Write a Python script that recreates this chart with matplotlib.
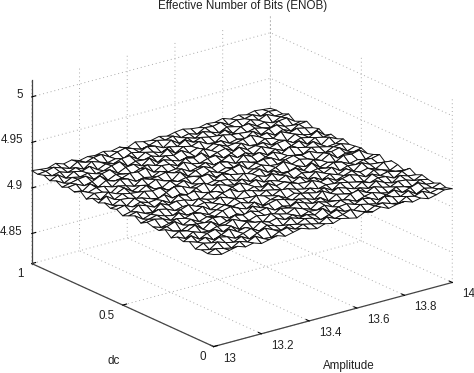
import matplotlib
matplotlib.use("Agg")
import matplotlib.pyplot as plt
from mpl_toolkits.mplot3d import proj3d
import numpy as np

plt.rcParams["font.family"] = ["Liberation Sans", "DejaVu Sans"]
plt.rcParams["font.size"] = 8.4

amplitude_ticks = [13, 13.2, 13.4, 13.6, 13.8, 14]
dc_ticks = [0, 0.5, 1]
enob_ticks = [4.85, 4.9, 4.95, 5]
amplitude_tick_labels = ["13", "13.2", "13.4", "13.6", "13.8", "14"]
dc_tick_labels = ["0", "0.5", "1"]
enob_tick_labels = ["4.85", "4.9", "4.95", "5"]

enob_milli = [
    [18, 16, 18, 20, 17, 19, 16, 18, 20, 17, 19, 21, 18, 16, 19, 17, 20, 18, 16, 20, 18, 21, 17, 19, 20, 17, 19, 16, 18, 21, 20],
    [16, 19, 17, 15, 20, 17, 21, 16, 15, 19, 21, 17, 20, 18, 16, 21, 17, 19, 22, 18, 15, 19, 20, 17, 15, 20, 18, 21, 17, 19, 18],
    [17, 15, 21, 18, 16, 20, 15, 19, 22, 18, 15, 19, 17, 21, 19, 15, 18, 21, 17, 15, 20, 18, 16, 22, 19, 17, 21, 15, 19, 17, 20],
    [15, 19, 17, 21, 19, 15, 18, 21, 16, 20, 17, 15, 21, 18, 20, 17, 22, 15, 19, 20, 17, 21, 19, 15, 18, 21, 16, 19, 22, 18, 17],
    [20, 17, 20, 15, 18, 22, 17, 19, 15, 21, 18, 20, 16, 19, 15, 18, 17, 20, 16, 21, 19, 15, 18, 20, 17, 15, 19, 17, 15, 20, 18],
    [17, 21, 15, 19, 21, 16, 20, 14, 20, 17, 15, 22, 19, 17, 21, 18, 15, 21, 18, 17, 15, 20, 22, 17, 21, 18, 16, 20, 19, 16, 20],
    [19, 15, 20, 17, 16, 19, 18, 22, 18, 16, 19, 17, 15, 20, 18, 22, 19, 16, 20, 14, 19, 17, 15, 19, 16, 22, 18, 15, 21, 18, 17],
    [15, 20, 18, 22, 15, 21, 15, 17, 21, 19, 21, 18, 20, 15, 17, 15, 20, 18, 15, 22, 17, 21, 18, 15, 20, 17, 20, 19, 15, 20, 21],
    [21, 17, 15, 19, 18, 17, 20, 19, 15, 17, 14, 21, 17, 19, 21, 19, 16, 21, 19, 17, 20, 15, 21, 19, 17, 15, 21, 17, 19, 17, 16],
    [17, 19, 22, 16, 20, 15, 18, 16, 20, 22, 18, 15, 20, 14, 18, 20, 15, 18, 15, 19, 16, 18, 17, 20, 22, 19, 15, 20, 18, 15, 19],
    [18, 15, 17, 20, 18, 21, 19, 15, 18, 21, 17, 19, 16, 22, 19, 17, 21, 20, 17, 15, 22, 18, 20, 15, 18, 21, 17, 19, 16, 21, 20],
    [20, 21, 19, 15, 21, 16, 17, 21, 15, 19, 15, 20, 18, 17, 15, 20, 18, 15, 21, 18, 17, 20, 15, 19, 16, 20, 15, 22, 18, 17, 15],
    [16, 18, 20, 17, 15, 19, 22, 18, 20, 17, 21, 18, 15, 21, 19, 16, 22, 17, 19, 16, 20, 15, 21, 17, 21, 15, 18, 17, 20, 19, 21],
    [21, 15, 18, 21, 19, 15, 17, 14, 21, 18, 16, 20, 22, 17, 15, 18, 15, 20, 17, 21, 15, 19, 17, 19, 17, 21, 19, 15, 17, 15, 18],
    [18, 20, 16, 15, 22, 18, 20, 19, 16, 15, 20, 19, 15, 19, 21, 17, 20, 15, 22, 18, 19, 21, 16, 22, 15, 18, 16, 21, 20, 22, 16],
    [15, 17, 22, 19, 15, 20, 15, 21, 19, 21, 17, 15, 21, 18, 16, 20, 15, 19, 16, 20, 15, 15, 18, 15, 20, 17, 22, 15, 18, 17, 19],
    [19, 21, 17, 20, 17, 18, 21, 15, 17, 14, 19, 22, 17, 20, 19, 15, 21, 18, 21, 15, 18, 22, 17, 20, 18, 15, 20, 19, 21, 15, 18],
    [17, 18, 15, 21, 19, 16, 14, 18, 22, 20, 16, 18, 15, 17, 22, 19, 17, 14, 18, 20, 17, 16, 19, 21, 19, 21, 17, 15, 19, 20, 17],
    [20, 15, 19, 18, 15, 21, 19, 20, 15, 18, 21, 15, 20, 21, 15, 18, 20, 22, 15, 19, 21, 20, 15, 18, 16, 15, 20, 18, 16, 17, 20],
    [17, 22, 16, 20, 18, 17, 22, 16, 15, 20, 17, 19, 18, 16, 19, 15, 18, 16, 20, 17, 15, 18, 21, 17, 22, 19, 17, 21, 15, 21, 17],
    [19, 15, 21, 17, 21, 15, 19, 17, 21, 17, 15, 22, 15, 19, 21, 17, 21, 19, 15, 22, 18, 20, 15, 19, 15, 18, 21, 15, 20, 18, 19],
    [15, 19, 18, 14, 20, 18, 15, 21, 18, 19, 21, 18, 20, 15, 17, 20, 15, 17, 21, 16, 19, 15, 21, 17, 20, 21, 16, 19, 17, 22, 15],
    [21, 17, 20, 19, 16, 22, 20, 15, 17, 15, 19, 16, 17, 22, 18, 16, 19, 20, 15, 18, 22, 17, 19, 20, 15, 18, 15, 20, 17, 15, 19],
    [17, 15, 21, 15, 20, 17, 18, 21, 20, 22, 15, 20, 19, 15, 21, 19, 22, 15, 18, 20, 15, 21, 16, 15, 19, 17, 22, 18, 21, 19, 17],
    [19, 20, 16, 18, 22, 15, 19, 17, 15, 18, 20, 17, 21, 18, 15, 17, 15, 21, 17, 21, 17, 18, 20, 22, 18, 20, 15, 19, 15, 20, 21],
    [16, 18, 20, 21, 15, 19, 21, 15, 19, 20, 16, 22, 15, 20, 18, 21, 16, 19, 15, 19, 20, 15, 17, 15, 21, 15, 19, 21, 17, 16, 18],
    [20, 15, 19, 17, 19, 16, 17, 20, 22, 15, 18, 17, 19, 16, 22, 15, 20, 18, 21, 16, 15, 21, 19, 18, 17, 19, 17, 15, 20, 21, 15],
    [17, 21, 15, 20, 18, 21, 15, 19, 17, 20, 21, 15, 20, 18, 15, 19, 17, 22, 17, 20, 18, 17, 21, 15, 20, 21, 16, 18, 15, 19, 20],
    [20, 17, 19, 16, 19, 15, 21, 18, 15, 17, 15, 19, 17, 21, 19, 15, 21, 15, 19, 16, 21, 18, 15, 19, 17, 15, 20, 17, 21, 17, 17],
    [18, 19, 21, 18, 15, 20, 17, 20, 21, 16, 19, 21, 18, 15, 17, 20, 18, 20, 16, 18, 15, 20, 19, 21, 16, 19, 18, 20, 16, 19, 18],
    [19, 18, 17, 20, 17, 19, 16, 18, 17, 19, 17, 19, 16, 20, 18, 17, 19, 17, 19, 20, 18, 17, 19, 18, 20, 17, 19, 17, 19, 18, 17],
]

axis_color = "#444444"
text_color = "#222222"

amplitude = np.linspace(13, 14, len(enob_milli[0]))
dc = np.linspace(0, 1, len(enob_milli))
X, Y = np.meshgrid(amplitude, dc)
Z = 4.9 + np.array(enob_milli) / 1000.0

fig = plt.figure(figsize=(4.74, 3.73), dpi=100)
ax = fig.add_axes([0.1, 0.0, 0.8, 1.0], projection="3d", proj_type="ortho")
ax.view_init(elev=20.5, azim=-127.5)
ax.set_box_aspect((300, 298, 195), zoom=1.215)

surf = ax.plot_surface(X, Y, Z, rstride=1, cstride=1, color="white", edgecolor="#111111",
                       linewidth=0.7, shade=False, antialiased=True)
surf.set_clip_on(False)

z_floor = 4.817
ax.set_xlim(13, 14, view_margin=0)
ax.set_ylim(0, 1, view_margin=0)
ax.set_zlim(z_floor, 5.018, view_margin=0)
ax.set_xticks(amplitude_ticks)
ax.set_yticks(dc_ticks)
ax.set_zticks(enob_ticks)

for axis in (ax.xaxis, ax.yaxis, ax.zaxis):
    axis.set_pane_color((1, 1, 1, 0))
    axis.pane.set_edgecolor((1, 1, 1, 0))
    axis.line.set_color(axis_color)
    axis.line.set_linewidth(0.9)
    axis._axinfo["grid"].update(color="#aaaaaa", linestyle=(0, (1, 3)), linewidth=0.7)
    axis._axinfo["tick"].update(inward_factor=0.0, outward_factor=0.2, color=axis_color)
    axis.set_tick_params(label1On=False)
    axis.offsetText.set_visible(False)


def tick_label(x, y, z, text, dx, dy, ha):
    # tick labels sit off the box corners like in the MATLAB view
    px, py, _ = proj3d.proj_transform(x, y, z, ax.get_proj())
    ax.annotate(text, xy=(px, py), xytext=(dx, dy), textcoords="offset pixels", ha=ha,
                va="center", color=text_color, annotation_clip=False)


for a, s in zip(amplitude_ticks, amplitude_tick_labels):
    tick_label(a, 0, z_floor, s, 10, -12, "left")
for d, s in zip(dc_ticks, dc_tick_labels):
    tick_label(13, d, z_floor, s, -8, -10.5, "right")
for e, s in zip(enob_ticks, enob_tick_labels):
    tick_label(13, 1, e, s, -9, 2, "right")

fig.text(349 / 474, 1 - 366 / 373, "Amplitude", ha="center", va="center", color=text_color)
fig.text(114 / 474, 1 - 361 / 373, "dc", ha="center", va="center", color=text_color)
fig.suptitle("Effective Number of Bits (ENOB)", x=243 / 474, y=1 - 6 / 373, va="center",
             fontsize=8.4, color=text_color)

fig.savefig("out.png", dpi=100)
